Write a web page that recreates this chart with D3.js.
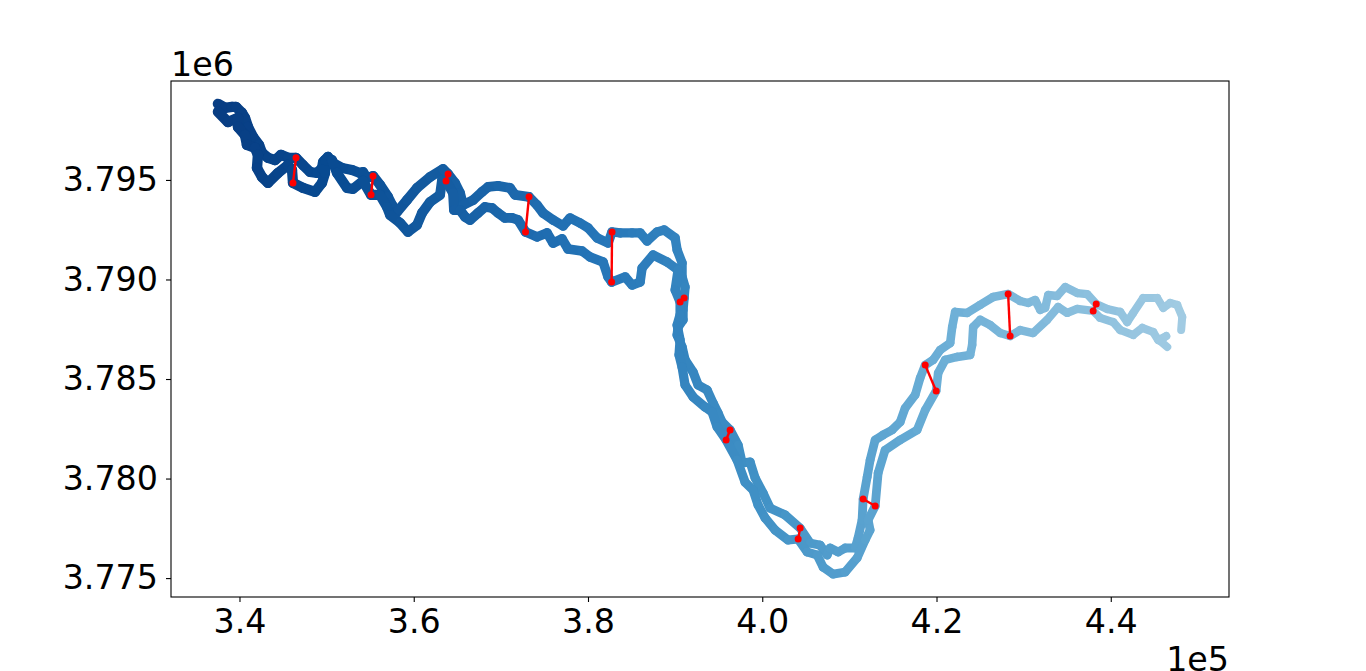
<!DOCTYPE html>
<html>
<head>
<meta charset="utf-8">
<script src="https://cdn.jsdelivr.net/npm/d3@7"></script>
<style>
html, body { margin: 0; padding: 0; background: #fff; }
svg { display: block; }
text { font-family: "DejaVu Sans", sans-serif; fill: #000; }
</style>
</head>
<body>
<div id="output"></div>
<script>
// one bank of the river
var upperX = [337530,338335,339140,339600,340290,340630,340980,341550,342240,342580,343270,344080,344760,345570,346490,
  347290,348090,348900,349470,349590,350160,350730,351770,352920,353830,354180,354640,355330,
  356130,357050,357510,358080,359230,360380,361870,363360,363940,
  364740,365310,365660,366810,367840,368530,369680,371050,371630,373230,
  374150,374840,375990,377140,377940,379090,380010,381040,382300,382760,
  383680,385060,385980,386780,387930,388730,390000,390230,390800,390800,391140,391030,
  390910,390910,390340,390230,390800,391140,392060,392640,393670,394360,394930,395390,396310,
  397230,397690,398610,399180,400100,400900,402620,404350,
  405490,406640,407450,407790,408710,409510,410660,411000,411460,411580,
  412040,412380,412960,413870,414910,415830,416400,417550,418120,418700,
  419610,420420,421570,421800,422140,423520,425010,426500,428220,
  429600,430520,431320,431900,432470,432820,433850,434770,436150,437290,438330,
  439590,441080,441890,442570,443720,445330,446020,446820,447630,448200,448080];
var upperY = [3798820,3798620,3798670,3798670,3798370,3798120,3797660,3797160,3796760,3796360,3796110,3796000,3796260,3796110,3796110,
  3795750,3795400,3795350,3795600,3795900,3796160,3795850,3795600,3795500,3795350,3795400,3795100,3795200,
  3794750,3794150,3793740,3793390,3793990,3794600,3795150,3795550,3795300,
  3794850,3794350,3793740,3793990,3794400,3794650,3794700,3794600,3794250,3794150,
  3793740,3793340,3792990,3792690,3793090,3792840,3792590,3792090,3791830,3792390,
  3792340,3792340,3792340,3791930,3792390,3792490,3792090,3791480,3790830,3790130,3789620,3789070,
  3788470,3787970,3787610,3787210,3786610,3785960,3785350,3784700,3784450,3783790,3783290,3782840,3782440,
  3781680,3780780,3780830,3780030,3779270,3778520,3778170,3777510,
  3776760,3776660,3776160,3776510,3776310,3776510,3776510,3777010,3777920,3778970,
  3780080,3780930,3781940,3782190,3782440,3782840,3783540,3784200,3785050,3785700,
  3785960,3786460,3786810,3787610,3788370,3788320,3788720,3789120,3789270,
  3788920,3788820,3788970,3788470,3788570,3789220,3789170,3789620,3789320,3789270,3788770,
  3788520,3788370,3787860,3788320,3789070,3789070,3788570,3788820,3788720,3788120,3787460];

// the other bank
var lowerX = [337530,338680,339830,339830,340630,340860,341780,342120,342010,342580,343270,344420,345570,346030,346140,
  347290,348670,349470,349820,349820,350620,351190,352340,353030,354180,355100,
  356130,356930,357280,358430,359340,360380,360950,361870,363020,363250,363710,
  364510,364620,365310,365890,366460,367380,368180,368990,369680,370480,371280,371970,372830,
  374150,375300,375990,377020,377710,379320,380240,381730,382300,382710,
  384260,385060,385980,386210,387470,389080,390340,390000,390570,
  390570,390230,390570,390450,390800,391140,392060,393440,394240,394820,395850,
  397110,398030,398950,399520,400330,401480,402970,404120,
  405150,406300,406990,408130,409510,410890,411810,412380,412150,412960,
  413300,414100,415830,417780,418700,419960,
  420190,420990,422370,423860,424090,424210,425010,426160,427310,428450,
  429600,431090,432700,433960,435000,436150,437980,
  438790,440280,441080,442570,443610,444870,445440,446360,445670,446480];
var lowerY = [3798420,3797910,3798120,3797660,3797260,3796760,3796610,3796260,3795600,3795150,3794850,3795350,3795750,3795500,3794850,
  3794600,3794400,3794850,3795350,3796000,3796000,3795350,3794600,3794550,3794950,3794250,
  3794250,3793640,3793240,3792840,3792390,3792740,3793340,3793890,3794250,3795000,3794950,
  3794350,3793490,3793490,3793140,3792990,3793340,3793640,3793590,3793340,3793090,3793090,3792990,3792390,
  3792140,3792340,3791830,3792040,3791530,3791430,3791130,3790880,3790130,3789870,
  3790130,3789720,3789870,3790580,3791230,3790880,3790480,3789470,3788870,
  3788220,3787710,3786960,3786210,3785600,3784700,3784100,3783590,3783340,3782590,3781940,
  3780930,3779820,3779420,3778670,3778020,3777410,3776910,3776960,
  3776310,3776160,3775550,3775200,3775300,3776010,3776910,3777410,3777920,3778620,
  3780280,3781430,3781940,3782440,3783440,3784400,
  3785300,3785960,3786110,3786210,3786710,3787610,3787970,3787710,3787310,3787160,
  3787460,3787310,3787970,3788620,3788320,3788520,3788420,
  3788070,3787860,3787460,3787210,3787570,3787360,3786960,3787160,3786910,3786610];

// red cross sections, one end on each bank
var sectionAX = [346490,355330,363940,373230,382760,391030,396310,404350,411580,418700,428220,438330];
var sectionAY = [3796110,3795200,3795300,3794150,3792390,3789070,3782440,3777510,3778970,3785700,3789270,3788770];
var sectionBX = [346140,355100,363710,372830,382710,390570,395850,404120,412960,419960,428450,437980];
var sectionBY = [3794850,3794250,3794950,3792390,3789870,3788870,3781940,3776960,3778620,3784400,3787160,3788420];

var xTicks = [340000,360000,380000,400000,420000,440000];
var yTicks = [3775000,3780000,3785000,3790000,3795000];

var w = 1366;
var h = 671;
var left = 171, right = 1229, top_ = 81, bottom = 597;

var svg = d3.select('#output').append('svg')
  .attr('width', w)
  .attr('height', h);

var x = d3.scaleLinear().domain([332140, 453570]).range([left, right]);
var y = d3.scaleLinear().domain([3774050, 3799970]).range([bottom, top_]);

// colour and thickness change along the river
var color = d3.scaleLinear()
  .domain([337000, 350000, 380000, 400000, 420000, 449000])
  .range(['#083c82', '#084a91', '#2474b7', '#4292c6', '#6baed6', '#a3cce3']);
var thick = d3.scaleLinear().domain([337000, 449000]).range([10.5, 8]);

function drawBank(xs, ys) {
  var pairs = d3.pairs(d3.range(xs.length));
  svg.append('g').selectAll('line')
    .data(pairs)
    .enter()
    .append('line')
    .attr('x1', function(d) { return x(xs[d[0]]); })
    .attr('y1', function(d) { return y(ys[d[0]]); })
    .attr('x2', function(d) { return x(xs[d[1]]); })
    .attr('y2', function(d) { return y(ys[d[1]]); })
    .attr('stroke', function(d) { return color(xs[d[0]]); })
    .attr('stroke-width', function(d) { return thick(xs[d[0]]); })
    .attr('stroke-linecap', 'round');
}

drawBank(upperX, upperY);
drawBank(lowerX, lowerY);

// cross sections on top
var idx = d3.range(sectionAX.length);
svg.append('g').selectAll('line')
  .data(idx)
  .enter()
  .append('line')
  .attr('x1', function(i) { return x(sectionAX[i]); })
  .attr('y1', function(i) { return y(sectionAY[i]); })
  .attr('x2', function(i) { return x(sectionBX[i]); })
  .attr('y2', function(i) { return y(sectionBY[i]); })
  .attr('stroke', '#f00')
  .attr('stroke-width', 2.4);

svg.append('g').selectAll('circle')
  .data(idx.map(function(i) { return [sectionAX[i], sectionAY[i]]; })
    .concat(idx.map(function(i) { return [sectionBX[i], sectionBY[i]]; })))
  .enter()
  .append('circle')
  .attr('cx', function(d) { return x(d[0]); })
  .attr('cy', function(d) { return y(d[1]); })
  .attr('r', 3.5)
  .attr('fill', '#f00');

// axes, matplotlib look
var xAxis = d3.axisBottom(x).tickValues(xTicks).tickSize(5).tickPadding(7)
  .tickFormat(function(d) { return (d / 1e5).toFixed(1); });
var yAxis = d3.axisLeft(y).tickValues(yTicks).tickSize(5).tickPadding(8)
  .tickFormat(function(d) { return (d / 1e6).toFixed(3); });

var gx = svg.append('g').attr('transform', 'translate(0,' + bottom + ')').call(xAxis);
var gy = svg.append('g').attr('transform', 'translate(' + left + ',0)').call(yAxis);
[gx, gy].forEach(function(g) {
  g.select('.domain').remove();
  g.selectAll('line').attr('stroke', '#000').attr('stroke-width', 1.1);
  g.selectAll('text').attr('font-size', 33.3).attr('font-family', '"DejaVu Sans", sans-serif').attr('fill', '#000');
});

svg.append('rect')
  .attr('x', left).attr('y', top_)
  .attr('width', right - left).attr('height', bottom - top_)
  .attr('fill', 'none')
  .attr('stroke', '#000')
  .attr('stroke-width', 1.1);

// offset labels
svg.append('text').attr('x', left).attr('y', 76).attr('font-size', 33.3).text('1e6');
svg.append('text').attr('x', right).attr('y', 671).attr('text-anchor', 'end').attr('font-size', 33.3).text('1e5');
</script>
</body>
</html>
